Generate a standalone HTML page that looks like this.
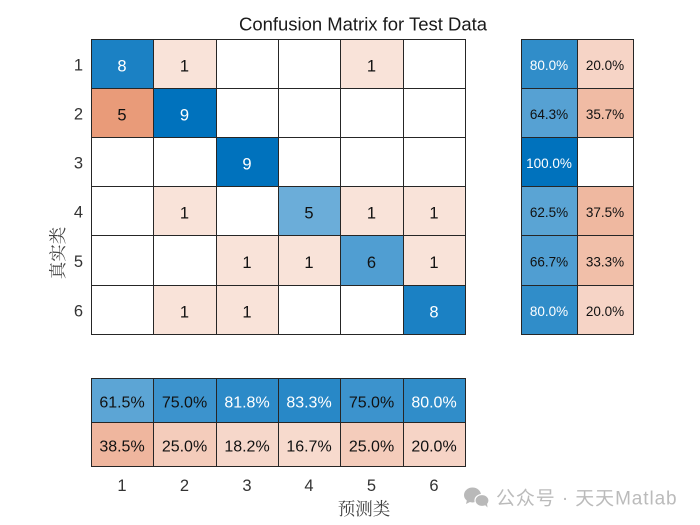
<!DOCTYPE html>
<html>
<head>
<meta charset="utf-8">
<style>
html,body{margin:0;padding:0;background:#fff;}
svg{display:block;}
text{font-family:"Liberation Sans",Arial,sans-serif;}
.cjk{font-family:"Liberation Serif","Noto Serif CJK SC",serif;}
.wm{font-family:"Liberation Sans","Noto Sans CJK SC",sans-serif;}
</style>
</head>
<body>
<svg id="chart" xmlns="http://www.w3.org/2000/svg" width="700" height="525" viewBox="0 0 700 525">
  <text x="363" y="30.500" font-size="18" fill="#1a1a1a" text-anchor="middle" textLength="248" lengthAdjust="spacingAndGlyphs">Confusion Matrix for Test Data</text>
  <g id="main-matrix"></g>
  <g id="row-summary"></g>
  <g id="col-summary"></g>
  <g id="y-ticks"></g>
  <g id="x-ticks"></g>
  <text class="cjk" transform="translate(64,253) rotate(-90)" font-size="17.500" fill="#444" text-anchor="middle">真实类</text>
  <text class="cjk" x="364" y="515" font-size="17.500" fill="#444" text-anchor="middle">预测类</text>
  <g>
    <g fill="#b9b9b9">
      <ellipse cx="472.500" cy="495" rx="8.500" ry="7.500"/>
      <path d="M467 500l-1 4 4-2z"/>
      <ellipse cx="482" cy="500.500" rx="7" ry="6" stroke="#fff" stroke-width="1.200"/>
      <path d="M485 505l2.500 2.500-.5-4z"/>
    </g>
    <text class="wm" x="496" y="504.500" font-size="19" fill="#bbbbbb" letter-spacing="0.900">公众号 · 天天Matlab</text>
  </g>
</svg>
<script>
const categories = ["1", "2", "3", "4", "5", "6"];
const maxCount = 9;
const matrixCounts = [
  [8, 1, 0, 0, 1, 0],
  [5, 9, 0, 0, 0, 0],
  [0, 0, 9, 0, 0, 0],
  [0, 1, 0, 5, 1, 1],
  [0, 0, 1, 1, 6, 1],
  [0, 1, 1, 0, 0, 8]
];
const rowCorrectPct = [80.0, 64.3, 100.0, 62.5, 66.7, 80.0];
const rowWrongPct = [20.0, 35.7, 0, 37.5, 33.3, 20.0];
const colCorrectPct = [61.5, 75.0, 81.8, 83.3, 75.0, 80.0];
const colWrongPct = [38.5, 25.0, 18.2, 16.7, 25.0, 20.0];

const NS = "http://www.w3.org/2000/svg";
const BLUE = [0, 114, 189];
const ORANGE = [217, 83, 25];
const LINE = "#262626";

// Axis functions
function xEdge(i) { return Math.round(91 + i * 62.33) + 0.5; }
function yEdge(i) { return Math.round(39 + i * 49.1) + 0.5; }
function rowSummaryEdge(i) { return 521.5 + i * 56; }
function colSummaryEdge(i) { return 378.5 + i * 44; }

function alphaOf(frac) { return frac <= 0 ? 0 : Math.min(1, 0.06 + 0.94 * frac); }
function fillOf(base, a) {
  const c = base.map(function (v) { return Math.round(255 + (v - 255) * a); });
  return "rgb(" + c.join(",") + ")";
}

function drawCell(parent, x0, x1, y0, y1, frac, base, label, fontSize, name) {
  const a = alphaOf(frac);
  const r = document.createElementNS(NS, "rect");
  r.setAttribute("x", x0);
  r.setAttribute("y", y0);
  r.setAttribute("width", x1 - x0);
  r.setAttribute("height", y1 - y0);
  r.setAttribute("fill", fillOf(base, a));
  r.setAttribute("stroke", LINE);
  r.setAttribute("stroke-width", "1");
  
  
  parent.appendChild(r);
  if (label !== "") {
    const t = document.createElementNS(NS, "text");
    t.setAttribute("x", (x0 + x1) / 2 - 0.5);
    t.setAttribute("y", (y0 + y1) / 2 + fontSize * 0.44);
    t.setAttribute("text-anchor", "middle");
    t.setAttribute("font-size", fontSize);
    t.setAttribute("fill", a > 0.79 ? "#ffffff" : "#111111");
    t.textContent = label;
    
    
    parent.appendChild(t);
  }
}

function tick(parent, x, y, label, anchor, name) {
  const t = document.createElementNS(NS, "text");
  t.setAttribute("x", x);
  t.setAttribute("y", y);
  t.setAttribute("text-anchor", anchor);
  t.setAttribute("font-size", "16.5");
  t.setAttribute("fill", "#333333");
  t.textContent = label;
  
  
  parent.appendChild(t);
}

const mainG = document.getElementById("main-matrix");
matrixCounts.forEach(function (row, r) {
  row.forEach(function (v, c) {
    drawCell(mainG, xEdge(c), xEdge(c + 1), yEdge(r), yEdge(r + 1), v / maxCount,
      r === c ? BLUE : ORANGE, v === 0 ? "" : String(v), 16.5, "cell-r" + (r + 1) + "-c" + (c + 1));
  });
});

function pctLabel(v) { return v === 0 ? "" : v.toFixed(1) + "%"; }

const rowG = document.getElementById("row-summary");
rowCorrectPct.forEach(function (v, r) {
  drawCell(rowG, rowSummaryEdge(0), rowSummaryEdge(1), yEdge(r), yEdge(r + 1), v / 100, BLUE, pctLabel(v), 13.5, "row-correct-" + (r + 1));
});
rowWrongPct.forEach(function (v, r) {
  drawCell(rowG, rowSummaryEdge(1), rowSummaryEdge(2), yEdge(r), yEdge(r + 1), v / 100, ORANGE, pctLabel(v), 13.5, "row-wrong-" + (r + 1));
});

const colG = document.getElementById("col-summary");
colCorrectPct.forEach(function (v, c) {
  drawCell(colG, xEdge(c), xEdge(c + 1), colSummaryEdge(0), colSummaryEdge(1), v / 100, BLUE, pctLabel(v), 16, "col-correct-" + (c + 1));
});
colWrongPct.forEach(function (v, c) {
  drawCell(colG, xEdge(c), xEdge(c + 1), colSummaryEdge(1), colSummaryEdge(2), v / 100, ORANGE, pctLabel(v), 16, "col-wrong-" + (c + 1));
});

const yT = document.getElementById("y-ticks");
const xT = document.getElementById("x-ticks");
categories.forEach(function (label, i) {
  tick(yT, 83, (yEdge(i) + yEdge(i + 1)) / 2 + 6.5, label, "end", "y-tick-" + label);
  tick(xT, (xEdge(i) + xEdge(i + 1)) / 2 - 0.5, 491, label, "middle", "x-tick-" + label);
});
</script>
</body>
</html>
